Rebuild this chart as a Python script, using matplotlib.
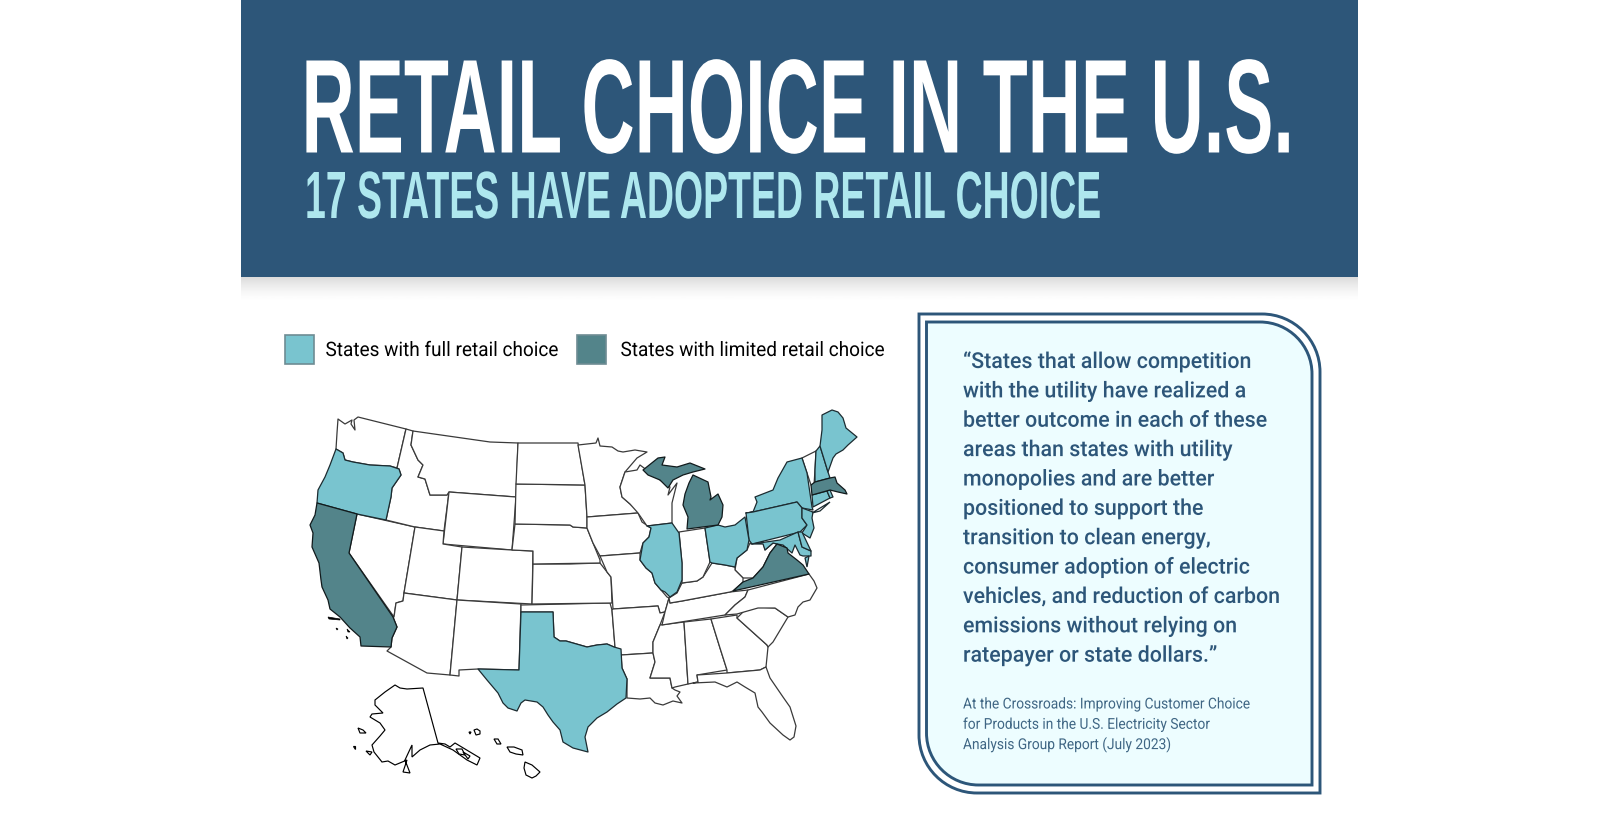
'''
retail choice infographic: header band, state map with two categories, quote box
all coordinates are pixels of the 1599x838 picture
'''

import matplotlib
matplotlib.use("Agg")
import matplotlib.pyplot as plt
import matplotlib.patheffects as pe
import numpy as np
from matplotlib.patches import Polygon, PathPatch, Rectangle
from matplotlib.path import Path
from matplotlib.textpath import TextPath
from matplotlib.font_manager import FontProperties
from matplotlib.transforms import Affine2D

W, H = 1599, 838
NAVY = '#2D5679'
FULL = '#79C4CF'
LIMITED = '#53848A'

TITLE = 'RETAIL CHOICE IN THE U.S.'
SUBTITLE = '17 STATES HAVE ADOPTED RETAIL CHOICE'
LEGEND_LABELS = ['States with full retail choice', 'States with limited retail choice']
QUOTE_LINES = [
    '“States that allow competition',
    'with the utility have realized a',
    'better outcome in each of these',
    'areas than states with utility',
    'monopolies and are better',
    'positioned to support the',
    'transition to clean energy,',
    'consumer adoption of electric',
    'vehicles, and reduction of carbon',
    'emissions without relying on',
    'ratepayer or state dollars.”',
]
SOURCE_LINES = [
    'At the Crossroads: Improving Customer Choice',
    'for Products in the U.S. Electricity Sector',
    'Analysis Group Report (July 2023)',
]

FULL_STATES = ['OR', 'TX', 'IL', 'OH', 'PA', 'NY', 'NJ', 'MD', 'DE', 'CT', 'RI', 'NH', 'ME']
LIMITED_STATES = ['CA', 'MI_U', 'MI_L', 'VA', 'MA']

# state outlines
WA = [(338, 419), (345, 424), (352, 420), (351, 424), (355, 430), (354, 420), (358, 417), (406, 429),
      (397, 468), (390, 466), (370, 465), (353, 462), (345, 460), (343, 453), (336, 449), (337, 433)]
OR = [(336, 449), (343, 453), (345, 460), (353, 462), (370, 465), (390, 466), (399, 469), (401, 475),
      (392, 488), (391, 497), (386, 520), (357, 514), (317, 503), (318, 490), (325, 477), (330, 465)]
CA = [(317, 503), (357, 514), (349, 553), (393, 617), (397, 627), (392, 638), (391, 647), (361, 646),
      (360, 637), (350, 628), (340, 617), (330, 609), (328, 600), (322, 587), (321, 580), (319, 563),
      (312, 547), (313, 533), (310, 525), (315, 515)]
NV = [(357, 514), (415, 527), (404, 593), (403, 601), (396, 603), (394, 617), (349, 553)]
ID = [(406, 429), (413, 431), (411, 445), (418, 460), (423, 465), (418, 477), (425, 479), (430, 495),
      (447, 495), (449, 492), (444, 531), (415, 527), (386, 520), (391, 497), (392, 488), (401, 475),
      (399, 469), (397, 468)]
MT = [(413, 431), (490, 442), (518, 443), (516, 497), (449, 492), (447, 495), (430, 495), (425, 479),
      (418, 477), (423, 465), (418, 460), (411, 445)]
WY = [(449, 492), (516, 497), (512, 550), (443, 544)]
UT = [(415, 527), (444, 531), (443, 544), (462, 547), (457, 600), (404, 593)]
CO = [(462, 547), (512, 550), (533, 551), (532, 604), (457, 600)]
AZ = [(404, 593), (457, 600), (450, 675), (427, 673), (387, 651), (391, 647), (392, 638), (397, 627),
      (393, 617), (394, 617), (396, 603), (403, 601)]
NM = [(457, 600), (521, 604), (519, 670), (478, 669), (459, 670), (459, 676), (450, 675)]
TX = [(521, 612), (553, 612), (554, 637), (560, 641), (566, 641), (573, 643), (580, 645), (587, 647),
      (597, 645), (607, 644), (614, 647), (621, 649), (622, 668), (627, 679), (626, 698), (617, 704),
      (607, 712), (597, 718), (588, 727), (585, 737), (588, 752), (573, 748), (563, 742), (560, 730),
      (553, 722), (548, 715), (543, 707), (537, 702), (525, 700), (521, 703), (517, 711), (508, 708),
      (503, 703), (498, 693), (487, 680), (478, 669), (519, 670)]
OK = [(521, 605), (610, 603), (612, 610), (615, 647), (621, 649), (614, 647), (607, 644), (597, 645),
      (587, 647), (580, 645), (573, 643), (566, 641), (560, 641), (554, 637), (553, 612), (521, 612)]
KS = [(533, 564), (570, 564), (600, 563), (607, 572), (611, 577), (612, 603), (532, 604)]
NE = [(515, 524), (570, 525), (573, 527), (587, 528), (593, 543), (600, 560), (600, 563), (533, 564),
      (533, 551), (512, 550)]
SD = [(516, 484), (585, 485), (587, 517), (587, 528), (573, 527), (570, 525), (515, 524)]
ND = [(518, 443), (578, 443), (585, 485), (516, 484)]
MN = [(578, 445), (596, 443), (598, 438), (600, 446), (612, 447), (618, 451), (623, 452), (635, 450), (647, 452),
      (637, 458), (625, 472), (620, 487), (622, 497), (630, 504), (637, 510), (638, 513), (587, 517), (585, 485)]
IA = [(587, 517), (638, 513), (642, 522), (651, 528), (649, 537), (643, 543), (640, 553), (600, 556),
      (593, 543), (587, 528)]
MO = [(600, 556), (640, 553), (640, 560), (646, 568), (652, 573), (655, 583), (661, 590), (667, 597), (669, 598),
      (665, 612), (660, 613), (658, 606), (613, 609), (611, 577), (607, 572)]
AR = [(613, 609), (658, 606), (660, 613), (665, 612), (660, 625), (653, 642), (653, 653), (621, 655),
      (615, 647), (612, 610)]
LA = [(621, 655), (653, 653), (655, 662), (650, 678), (670, 678), (672, 688), (675, 690), (680, 692), (677, 696),
      (682, 703), (673, 701), (663, 705), (655, 703), (650, 698), (640, 699), (627, 698), (627, 679), (622, 668)]
MS = [(660, 625), (684, 622), (688, 684), (675, 687), (672, 688), (670, 678), (650, 678), (655, 662),
      (653, 653), (653, 642)]
AL = [(684, 622), (711, 619), (720, 648), (727, 670), (697, 675), (698, 682), (693, 683), (688, 684)]
GA = [(711, 619), (737, 615), (737, 618), (767, 645), (768, 647), (766, 667), (760, 670), (727, 673),
      (727, 670), (720, 648)]
SC = [(737, 618), (745, 610), (758, 607), (775, 608), (788, 617), (773, 642), (768, 647), (767, 645)]
FL = [(693, 683), (698, 682), (697, 675), (727, 673), (760, 670), (766, 667), (770, 678), (783, 697),
      (790, 707), (796, 726), (794, 737), (790, 740), (783, 735), (770, 723), (762, 712), (758, 707), (755, 693),
      (745, 687), (737, 682), (727, 687), (715, 682)]
TN = [(670, 603), (682, 601), (730, 592), (748, 590), (745, 597), (735, 605), (725, 615), (662, 625),
      (665, 612), (669, 598)]
NC = [(748, 590), (809, 574), (814, 581), (817, 588), (810, 600), (803, 602), (798, 607), (795, 615), (788, 617),
      (775, 608), (758, 608), (737, 614), (725, 615), (735, 605), (745, 597)]
VA = [(733, 591), (743, 582), (753, 578), (763, 567), (770, 553), (777, 544), (787, 548), (788, 553),
      (797, 560), (803, 565), (809, 574)]
WV = [(750, 543), (751, 544), (763, 541), (765, 550), (773, 543), (777, 544), (770, 553), (763, 567),
      (753, 578), (743, 578), (735, 570), (737, 558), (747, 550)]
KY = [(670, 603), (682, 601), (730, 592), (733, 591), (743, 582), (743, 578), (735, 570), (735, 567),
      (725, 565), (712, 563), (703, 577), (697, 581), (682, 583), (677, 593), (669, 598)]
IN = [(679, 532), (705, 528), (710, 562), (703, 577), (697, 581), (682, 583), (682, 563)]
IL = [(647, 526), (672, 523), (679, 533), (682, 563), (682, 580), (677, 592), (670, 597), (665, 592),
      (661, 590), (655, 583), (652, 573), (646, 568), (640, 560), (643, 543), (649, 537), (651, 528)]
WI = [(625, 472), (637, 470), (640, 465), (660, 480), (670, 487), (668, 495), (677, 483), (672, 503),
      (672, 523), (647, 526), (638, 513), (630, 504), (622, 497), (620, 487)]
MI_U = [(643, 470), (658, 458), (665, 457), (662, 465), (677, 467), (690, 463), (705, 469), (693, 472),
        (683, 475), (673, 480), (668, 488), (660, 480), (648, 475)]
MI_L = [(693, 475), (708, 482), (711, 497), (710, 500), (718, 494), (723, 505), (722, 517), (718, 525),
        (687, 529), (688, 517), (683, 505), (685, 494), (689, 483)]
OH = [(705, 528), (718, 525), (725, 527), (735, 525), (745, 517), (749, 540), (747, 550), (737, 558),
      (735, 567), (725, 565), (712, 563), (710, 562)]
PA = [(746, 513), (753, 512), (797, 502), (802, 508), (802, 518), (807, 525), (800, 532), (752, 544),
      (749, 540)]
NY = [(746, 513), (753, 512), (757, 502), (755, 497), (773, 490), (778, 478), (787, 462), (802, 458),
      (807, 473), (812, 507), (813, 510), (802, 508), (797, 502), (753, 512)]
LI = [(812, 513), (830, 502), (820, 511)]
NJ = [(802, 508), (813, 512), (812, 518), (814, 528), (810, 538), (802, 533), (807, 525), (802, 518)]
VT = [(802, 458), (816, 451), (815, 470), (814, 485), (811, 485), (807, 473)]
NH = [(816, 451), (820, 446), (828, 472), (830, 478), (815, 482), (815, 470)]
ME = [(820, 446), (822, 430), (822, 415), (832, 410), (838, 412), (843, 418), (846, 428), (857, 437),
      (848, 445), (843, 450), (836, 454), (833, 458), (828, 472)]
MA = [(811, 485), (815, 482), (830, 478), (835, 477), (837, 483), (845, 490), (847, 494), (838, 492),
      (830, 490), (812, 495)]
CT = [(812, 495), (827, 491), (830, 498), (813, 507)]
RI = [(827, 491), (830, 490), (833, 497), (830, 498)]
MD = [(780, 540), (798, 532), (802, 547), (811, 551), (811, 556), (803, 556), (800, 555), (795, 545), (792, 553),
      (783, 545), (777, 544), (773, 543), (765, 550), (763, 544), (752, 544)]
DE = [(798, 532), (802, 532), (811, 551), (802, 547)]
VA_SHORE = [(805, 558), (809, 556), (807, 567)]
AK = [(375, 700), (385, 692), (395, 685), (400, 688), (407, 689), (423, 688), (438, 743), (445, 744), (450, 747),
      (455, 743), (465, 749), (480, 758), (477, 765), (467, 760), (453, 750), (440, 744), (430, 745), (420, 750),
      (412, 757), (412, 745), (405, 760), (410, 773), (403, 772), (407, 760), (395, 765), (388, 761), (382, 762),
      (374, 752), (372, 745), (380, 736), (385, 730), (380, 723), (370, 717), (372, 714), (383, 713), (375, 705)]
AK_ISLES = [[(358, 728), (363, 730), (366, 733), (360, 733)],
            [(366, 751), (372, 752), (370, 755)],
            [(353, 746), (355, 746), (355, 749)],
            [(456, 749), (462, 749), (465, 755), (459, 754)],
            [(463, 752), (470, 756), (468, 759)]]
HI = [[(525, 762), (532, 765), (540, 772), (536, 776), (532, 778), (526, 775), (524, 768)],
      [(507, 747), (514, 747), (522, 750), (523, 755), (516, 754), (510, 752)],
      [(494, 739), (498, 739), (501, 744), (497, 744)],
      [(474, 730), (477, 729), (480, 731), (480, 734), (476, 735)],
      [(469, 732), (471, 732), (470, 734)]]
CA_ISLES = [[(328, 617), (340, 619), (340, 620), (329, 619)],
            [(336, 628), (338, 629), (337, 630)],
            [(347, 629), (350, 632), (348, 632)],
            [(346, 636), (348, 638), (347, 639)]]

STATES = {'WA': WA, 'OR': OR, 'NV': NV, 'ID': ID, 'MT': MT, 'WY': WY, 'UT': UT, 'CO': CO, 'AZ': AZ,
          'NM': NM, 'OK': OK, 'KS': KS, 'NE': NE, 'SD': SD, 'ND': ND, 'MN': MN, 'IA': IA, 'MO': MO,
          'AR': AR, 'LA': LA, 'MS': MS, 'AL': AL, 'GA': GA, 'SC': SC, 'FL': FL, 'TN': TN, 'NC': NC,
          'WV': WV, 'KY': KY, 'IN': IN, 'WI': WI, 'VT': VT, 'NY': NY, 'PA': PA, 'NJ': NJ, 'OH': OH,
          'IL': IL, 'MD': MD, 'DE': DE, 'CT': CT, 'RI': RI, 'NH': NH, 'ME': ME, 'TX': TX,
          'CA': CA, 'MI_U': MI_U, 'MI_L': MI_L, 'VA': VA, 'MA': MA}


class Stretch(pe.AbstractPathEffect):
    # stretches the glyphs upward from their baseline, the fonts we have are wider than the originals
    def __init__(self, sy, y0):
        super().__init__()
        self.sy = sy
        self.y0 = y0

    def draw_path(self, renderer, gc, tpath, affine, rgbFace=None):
        extra = Affine2D().translate(0, -self.y0).scale(1, self.sy).translate(0, self.y0)
        renderer.draw_path(gc, tpath, affine + extra, rgbFace)


def fit_size(s, width, family, weight):
    # font size in points that makes s as wide as width pixels
    t = ax.text(0, 0, s, fontsize=100, family=family, fontweight=weight)
    w = t.get_window_extent(renderer).width
    t.remove()
    return 100 * width / w


def cap_stretch(size, cap_height, family, weight):
    # factor that gives a capital H the wanted pixel height
    prop = FontProperties(family=family, weight=weight)
    return cap_height / TextPath((0, 0), 'H', size=size * fig.dpi / 72, prop=prop).get_extents().height


def put_text(x, baseline, s, size, sy, color, family, weight):
    y0 = ax.transData.transform((x, baseline))[1]
    ax.text(x, baseline, s, color=color, fontsize=size, family=family, fontweight=weight,
            va='baseline', ha='left', zorder=5, path_effects=[Stretch(sy, y0)])


def corner_box(x0, y0, x1, y1, r):
    # square top left and bottom right, rounded top right and bottom left
    k = 0.5523 * r
    verts = [(x0, y0), (x1 - r, y0), (x1 - r + k, y0), (x1, y0 + r - k), (x1, y0 + r),
             (x1, y1), (x0 + r, y1), (x0 + r - k, y1), (x0, y1 - r + k), (x0, y1 - r), (x0, y0)]
    codes = [Path.MOVETO, Path.LINETO, Path.CURVE4, Path.CURVE4, Path.CURVE4,
             Path.LINETO, Path.LINETO, Path.CURVE4, Path.CURVE4, Path.CURVE4, Path.CLOSEPOLY]
    return Path(verts, codes)


fig = plt.figure(figsize=(W / 100, H / 100), dpi=100, facecolor='white')
ax = fig.add_axes([0, 0, 1, 1])
ax.set_xlim(0, W)
ax.set_ylim(H, 0)
ax.axis('off')
renderer = fig.canvas.get_renderer()

# header band and the soft shadow below it
shadow = 1.0 - 0.14 * np.linspace(1, 0, 30).reshape(-1, 1) ** 1.6
ax.imshow(shadow, extent=(241, 1358, 303, 277), cmap='gray', vmin=0, vmax=1, aspect='auto', zorder=1)
ax.set_xlim(0, W)
ax.set_ylim(H, 0)
ax.add_patch(Rectangle((241, 0), 1117, 277, facecolor=NAVY, edgecolor='none', zorder=2))

band_family = ['Liberation Sans Narrow', 'Liberation Sans']
size = fit_size(TITLE, 992, band_family, 'bold')
put_text(301.5, 152.5, TITLE, size, cap_stretch(size, 92, band_family, 'bold'), 'white', band_family, 'bold')
size = fit_size(SUBTITLE, 796, band_family, 'bold')
put_text(305, 218, SUBTITLE, size, cap_stretch(size, 46, band_family, 'bold'), '#AEE7EE', band_family, 'bold')

# legend
size = fit_size(LEGEND_LABELS[1], 264, 'Roboto', 'normal')
sy = cap_stretch(size, 14.2, 'Roboto', 'normal')
ax.add_patch(Rectangle((284.5, 335.5), 29, 29, facecolor=FULL, edgecolor='#6E8C93', lw=1.2, zorder=3))
ax.add_patch(Rectangle((576.5, 335.5), 29, 29, facecolor=LIMITED, edgecolor='#6E8C93', lw=1.2, zorder=3))
put_text(325.5, 356, LEGEND_LABELS[0], size, sy, 'black', 'Roboto', 'normal')
put_text(620.5, 356, LEGEND_LABELS[1], size, sy, 'black', 'Roboto', 'normal')

# map
for name, outline in STATES.items():
    if name in FULL_STATES:
        face, line, z = FULL, '#1c2b30', 4
    elif name in LIMITED_STATES:
        face, line, z = LIMITED, '#111a1c', 4
    else:
        face, line, z = 'white', '#3a3a3a', 3
    ax.add_patch(Polygon(outline, closed=True, facecolor=face, edgecolor=line, lw=0.9, joinstyle='round', zorder=z))
ax.add_patch(Polygon(LI, closed=True, facecolor='white', edgecolor='#1c2b30', lw=0.9, zorder=4))
ax.add_patch(Polygon(VA_SHORE, closed=True, facecolor=FULL, edgecolor='#1c2b30', lw=0.9, zorder=4))
ax.add_patch(Polygon(AK, closed=True, facecolor='white', edgecolor='black', lw=0.85, zorder=3))
for piece in AK_ISLES + HI:
    ax.add_patch(Polygon(piece, closed=True, facecolor='white', edgecolor='black', lw=0.85, zorder=3))
for piece in CA_ISLES:
    ax.add_patch(Polygon(piece, closed=True, facecolor='black', edgecolor='black', lw=0.5, zorder=3))

# quote box, two lines
ax.add_patch(PathPatch(corner_box(919, 314, 1320, 793, 58), facecolor='white', edgecolor=NAVY, lw=2.1, zorder=3))
ax.add_patch(PathPatch(corner_box(926.5, 322, 1312, 785, 52), facecolor='#EDFDFF', edgecolor=NAVY, lw=2.1, zorder=3))

size = fit_size(QUOTE_LINES[8], 317, 'Roboto', 'medium')
sy = cap_stretch(size, 15.6, 'Roboto', 'medium')
for i, line in enumerate(QUOTE_LINES):
    put_text(963, 368 + i * 29.37, line, size, sy, NAVY, 'Roboto', 'medium')

size = fit_size(SOURCE_LINES[0], 287, 'Roboto', 'normal')
sy = cap_stretch(size, 10.7, 'Roboto', 'normal')
for i, line in enumerate(SOURCE_LINES):
    put_text(963, 708.5 + i * 20.3, line, size, sy, '#3F6684', 'Roboto', 'normal')

fig.savefig('out.png', dpi=100, facecolor='white')
